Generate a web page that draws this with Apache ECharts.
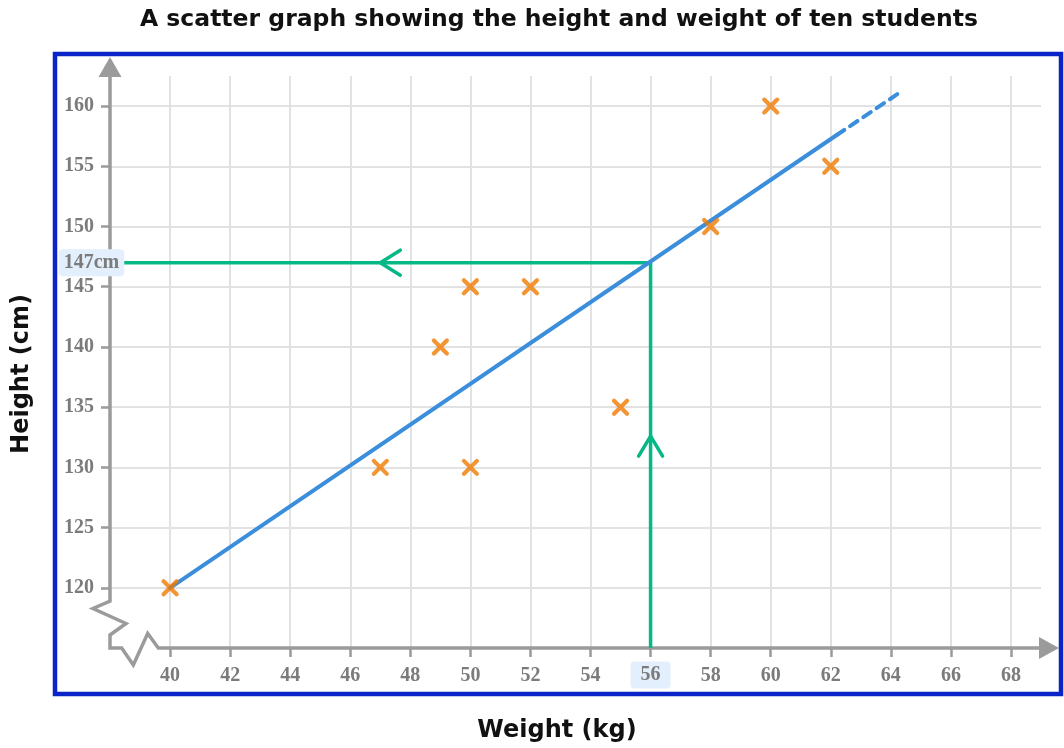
<!DOCTYPE html>
<html>
<head>
<meta charset="utf-8">
<script src="https://cdn.jsdelivr.net/npm/echarts@6/dist/echarts.min.js"></script>
<style>
html,body{margin:0;padding:0;background:#fff;}
#chart{width:1064px;height:748px;}
</style>
</head>
<body>
<div id="chart"></div>
<script>
// ---- data ----
const titleText = 'A scatter graph showing the height and weight of ten students';
const xName = 'Weight (kg)';
const yName = 'Height (cm)';
const xMin = 38, xMax = 69, yMin = 115, yMax = 162.5;
const xTickValues = [40, 42, 44, 46, 48, 50, 52, 54, 56, 58, 60, 62, 64, 66, 68];
const yTickValues = [120, 125, 130, 135, 140, 145, 150, 155, 160];
const weights = [40, 47, 49, 50, 50, 52, 55, 58, 60, 62];
const heights = [120, 130, 140, 145, 130, 145, 135, 150, 160, 155];
const fitSolid = [[40, 120], [62.2, 157.6]];
const fitDashed = [[62.2, 157.6], [64.4, 161.3]];
const readWeight = 56;
const readHeight = 147;
const readHLabel = '147cm';
const readWLabel = '56';
const arrowLeftTip = [47, 147];
const arrowUpTip = [56, 132.6];

// ---- styles ----
const AXIS = '#9b9b9b';
const LABEL = '#7b7b7b';
const ORANGE = '#f07a00';
const BLUE = '#3b8edb';
const GREEN = '#05b886';
const HL = '#e3effc';
const GRIDLINE = '#e2e2e2';
const serif = '"Liberation Serif", "Times New Roman", serif';
const sans = '"DejaVu Sans", "Open Sans", sans-serif';

const chart = echarts.init(document.getElementById('chart'), null, {renderer: 'canvas'});

const scatterData = weights.map((w, i) => [w, heights[i]]);

const option = {
  animation: false,
  backgroundColor: '#fff',
  grid: {left: 110, top: 76, right: 23, bottom: 100},
  graphic: [
    {type: 'rect', z: 100, silent: true, shape: {x: 55, y: 54, width: 1006, height: 640},
     style: {fill: 'none', stroke: '#0a24c8', lineWidth: 4.5}},
    {type: 'text', x: 559, y: 20, silent: true,
     style: {text: titleText, fill: '#111', font: 'bold 23.5px ' + sans, align: 'center', verticalAlign: 'middle'}},
    {type: 'text', x: 557, y: 731, silent: true,
     style: {text: xName, fill: '#111', font: 'bold 24px ' + sans, align: 'center', verticalAlign: 'middle'}},
    {type: 'text', x: 22, y: 374, rotation: Math.PI / 2, silent: true,
     style: {text: yName, fill: '#111', font: 'bold 24px ' + sans, align: 'center', verticalAlign: 'middle'}}
  ],
  xAxis: {
    type: 'value', min: xMin, max: xMax, interval: 1,
    axisLine: {show: false, onZero: false},
    axisTick: {show: true, customValues: xTickValues, length: 9, lineStyle: {color: AXIS, width: 2.5}},
    axisLabel: {show: true, customValues: xTickValues, margin: 18, color: LABEL,
      fontFamily: serif, fontWeight: 'bold', fontSize: 20,
      formatter: v => (v === readWeight ? '' : String(v))},
    splitLine: {show: true, lineStyle: {color: GRIDLINE, width: 2}}
  },
  yAxis: {
    type: 'value', min: yMin, max: yMax, interval: 2.5,
    axisLine: {show: false, onZero: false},
    axisTick: {show: true, customValues: yTickValues, length: 9, lineStyle: {color: AXIS, width: 2.5}},
    axisLabel: {show: true, customValues: yTickValues, margin: 16, color: LABEL,
      fontFamily: serif, fontWeight: 'bold', fontSize: 20},
    splitLine: {show: true, lineStyle: {color: GRIDLINE, width: 2}}
  },
  series: [
    {
      type: 'custom', z: 3, silent: true, data: [[xMin, yMin]],
      renderItem: function (params, api) {
        const o = api.coord([xMin, yMin]);
        const t = api.coord([xMin, yMax]);
        const r = api.coord([xMax, yMin]);
        const pts = [
          [o[0], t[1] - 2],
          [o[0], o[1] - 47],
          [o[0] - 17, o[1] - 39.5],
          [o[0] + 16, o[1] - 24.5],
          [o[0], o[1] - 13],
          [o[0], o[1]],
          [o[0] + 11.7, o[1]],
          [o[0] + 23.3, o[1] + 17],
          [o[0] + 37.7, o[1] - 14.5],
          [o[0] + 48.3, o[1]],
          [r[0] + 2, o[1]]
        ];
        return {
          type: 'group',
          children: [
            {type: 'polyline', shape: {points: pts},
             style: {stroke: AXIS, lineWidth: 3.5, fill: 'none', lineJoin: 'miter'}},
            {type: 'polygon', shape: {points: [[o[0], t[1] - 19], [o[0] - 11.5, t[1] + 1], [o[0] + 11.5, t[1] + 1]]},
             style: {fill: AXIS}},
            {type: 'polygon', shape: {points: [[r[0] + 18, o[1]], [r[0] - 2, o[1] - 11], [r[0] - 2, o[1] + 11]]},
             style: {fill: AXIS}}
          ]
        };
      }
    },
    {
      type: 'line', z: 4, silent: true, symbol: 'none',
      data: [[xMin, readHeight], [readWeight, readHeight]],
      lineStyle: {color: GREEN, width: 3.5}
    },
    {
      type: 'line', z: 4, silent: true, symbol: 'none',
      data: [[readWeight, yMin], [readWeight, readHeight]],
      lineStyle: {color: GREEN, width: 3.5}
    },
    {
      type: 'line', z: 5, silent: true, symbol: 'none',
      data: fitSolid,
      lineStyle: {color: BLUE, width: 4, cap: 'round'}
    },
    {
      type: 'line', z: 5, silent: true, symbol: 'none',
      data: fitDashed,
      lineStyle: {color: BLUE, width: 4, type: [9, 7], cap: 'round'}
    },
    {
      type: 'custom', z: 6, silent: true, data: [[0]],
      renderItem: function (params, api) {
        const a = api.coord(arrowLeftTip);
        const b = api.coord(arrowUpTip);
        const o = api.coord([xMin, readHeight]);
        const w = api.coord([readWeight, yMin]);
        const cs = {stroke: GREEN, lineWidth: 3.5, fill: 'none', lineCap: 'round', lineJoin: 'round'};
        return {
          type: 'group',
          children: [
            {type: 'polyline', shape: {points: [[a[0] + 20, a[1] - 12.5], a, [a[0] + 20, a[1] + 12.5]]}, style: cs},
            {type: 'polyline', shape: {points: [[b[0] - 12, b[1] + 20], b, [b[0] + 12, b[1] + 20]]}, style: cs},
            {type: 'text', x: o[0] - 18.5, y: o[1],
             style: {text: readHLabel, fill: LABEL, font: 'bold 20px ' + serif, align: 'center', verticalAlign: 'middle',
                     backgroundColor: HL, padding: [4, 5, 3, 5], borderRadius: 4}},
            {type: 'text', x: w[0], y: w[1] + 27,
             style: {text: readWLabel, fill: LABEL, font: 'bold 20px ' + serif, align: 'center', verticalAlign: 'middle',
                     backgroundColor: HL, padding: [3, 10, 4, 10], borderRadius: 4}}
          ]
        };
      }
    },
    {
      type: 'scatter', z: 7, silent: true,
      data: scatterData,
      symbol: 'path://M0,0L10,10M10,0L0,10',
      symbolSize: 13,
      itemStyle: {color: 'rgba(0,0,0,0)', borderColor: ORANGE, borderWidth: 4.2, borderCap: 'round'}
    }
  ]
};
chart.setOption(option);
</script>
</body>
</html>
